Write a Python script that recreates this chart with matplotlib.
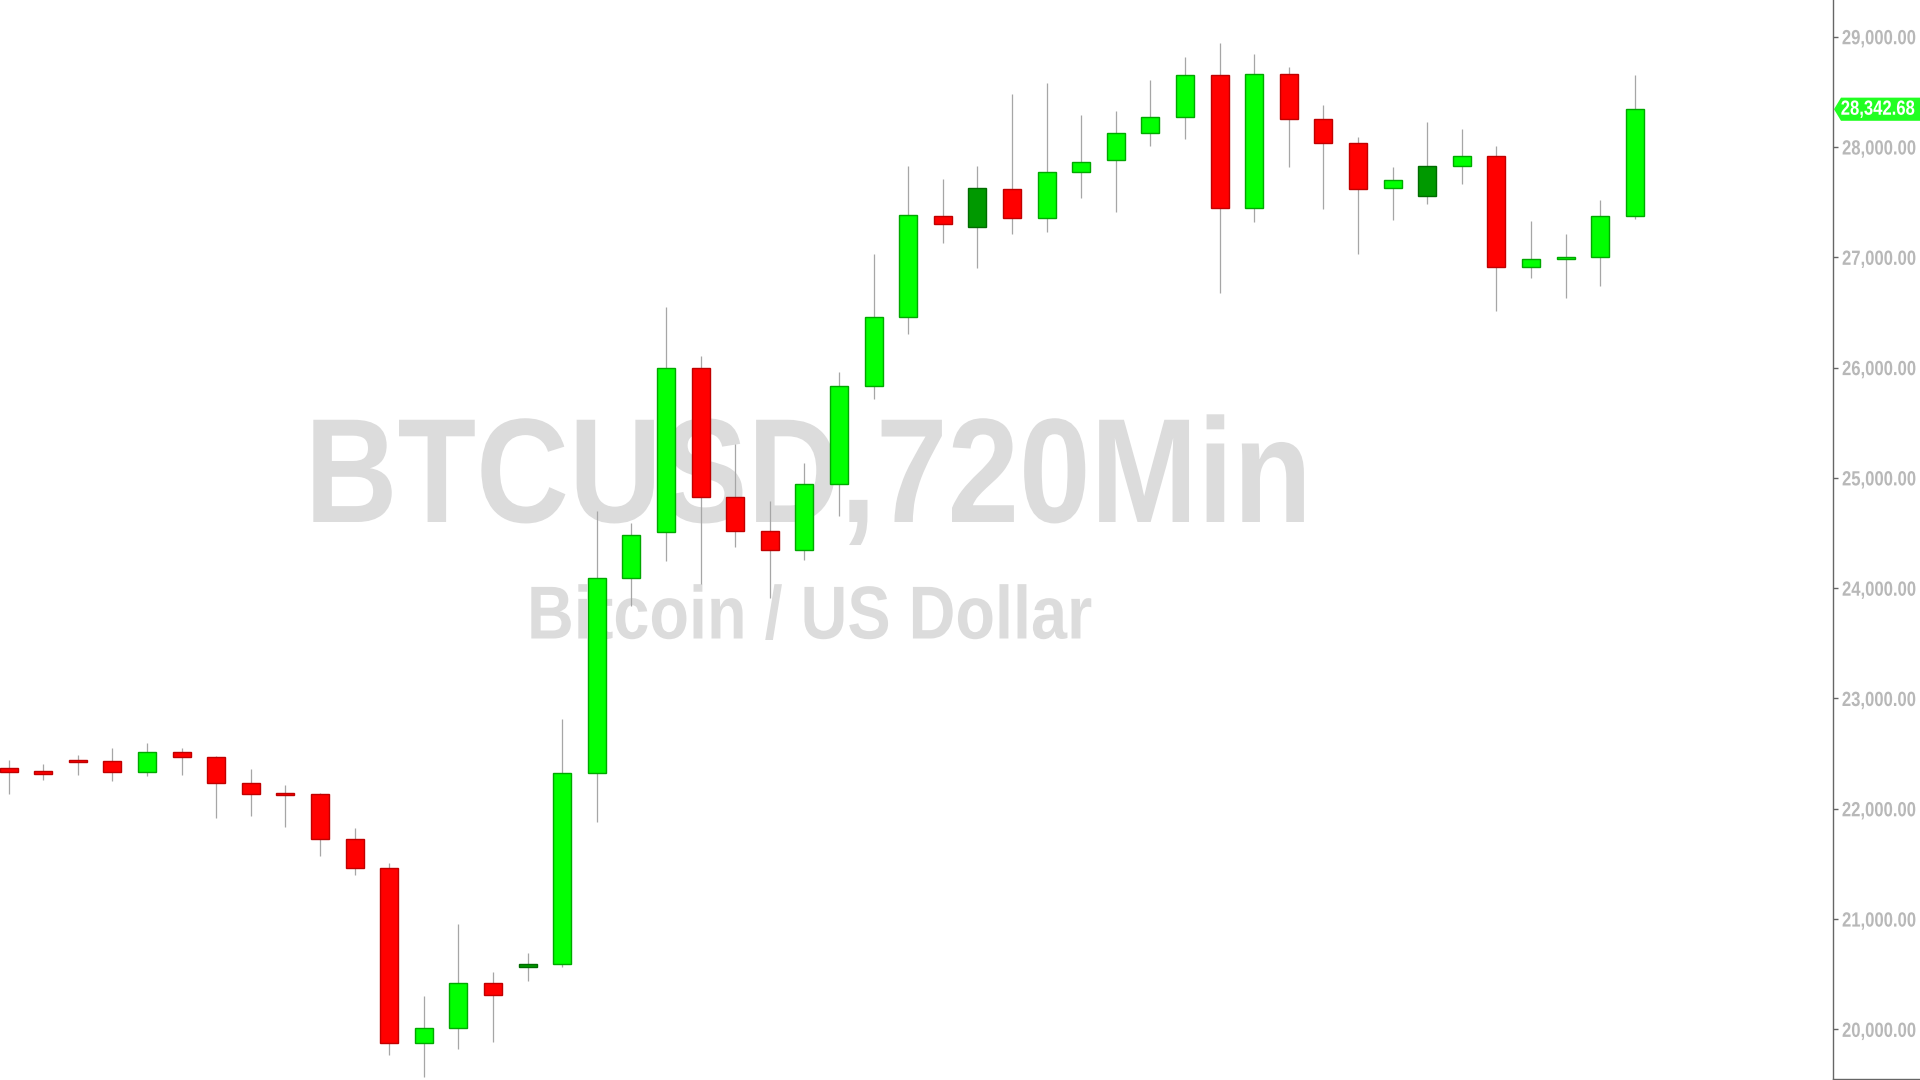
import matplotlib
matplotlib.use("Agg")
import matplotlib.pyplot as plt
from matplotlib.patches import Polygon
from matplotlib.lines import Line2D
from matplotlib.patheffects import AbstractPathEffect
from matplotlib.transforms import Affine2D, blended_transform_factory
from matplotlib.ticker import FuncFormatter, MultipleLocator

# BTCUSD 720 min candles
opens = [22367, 22346, 22440, 22436, 22336, 22512, 22467, 22231, 22140, 22135,
         21729, 21466, 19874, 20008, 20421, 20570, 20595, 22321, 24088, 24514,
         25994, 24829, 24521, 24343, 24942, 25832, 26458, 27374, 27277, 27617,
         27354, 27775, 27879, 28124, 28275, 28653, 27450, 28659, 28251, 28039,
         27626, 27559, 27825, 27918, 26915, 26982, 27005, 27374]
highs = [22443, 22406, 22491, 22549, 22594, 22549, 22479, 22358, 22216, 22146,
         21823, 21512, 20305, 20957, 20522, 20688, 22816, 24704, 24592, 26549,
         26101, 25305, 24787, 25136, 25962, 27031, 27830, 27714, 27830, 28484,
         28581, 28290, 28326, 28607, 28813, 28940, 28843, 28723, 28381, 28093,
         27816, 28229, 28163, 28012, 27329, 27211, 27520, 28653]
lows = [22134, 22261, 22309, 22255, 22300, 22305, 21919, 21935, 21838, 21572,
        21400, 19768, 19565, 19819, 19889, 20435, 20563, 21878, 23843, 24250,
        24042, 24373, 23915, 24259, 24651, 25719, 26302, 27131, 26901, 27215,
        27228, 27539, 27413, 28009, 28070, 26674, 27323, 27821, 27438, 27027,
        27338, 27481, 27662, 26516, 26815, 26628, 26740, 27345]
closes = [22336, 22316, 22432, 22336, 22512, 22467, 22231, 22132, 22132, 21729,
          21461, 19874, 20008, 20421, 20309, 20595, 22321, 24088, 24482, 25994,
          24829, 24521, 24343, 24942, 25832, 26458, 27384, 27306, 27629, 27354,
          27775, 27863, 28124, 28275, 28653, 27450, 28659, 28251, 28039, 27617,
          27698, 27825, 27918, 26915, 26987, 27005, 27374, 28342.68]
# candles drawn in the darker green
dark = [15, 28, 41]

symbol = "BTCUSD,720Min"
name = "Bitcoin / US Dollar"

fam = ["Liberation Sans", "DejaVu Sans"]


class Squeeze(AbstractPathEffect):
    # narrow the glyphs horizontally (the chart uses a condensed bold face)
    def __init__(self, sx, anchor="center"):
        super().__init__()
        self.sx = sx
        self.anchor = anchor

    def draw_path(self, renderer, gc, tpath, affine, rgbFace=None):
        v = affine.transform(tpath.vertices)
        if len(v) == 0:
            return
        if self.anchor == "center":
            x0 = (v[:, 0].min() + v[:, 0].max()) / 2
        elif self.anchor == "right":
            x0 = v[:, 0].max()
        else:
            x0 = v[:, 0].min()
        t = affine + Affine2D().translate(-x0, 0).scale(self.sx, 1).translate(x0, 0)
        renderer.draw_path(gc, tpath, t, rgbFace)


fig = plt.figure(figsize=(19.2, 10.8), dpi=100)
ax = fig.add_axes([0, 0, 1833 / 1920, 1])

n = len(opens)
xs = list(range(n))

# wicks
ax.vlines(xs, lows, highs, color="#a6a6a6", linewidth=0.9, zorder=2)

# bodies
for i in xs:
    o, c = opens[i], closes[i]
    if c >= o:
        if i in dark:
            fc, ec = "#009900", "#006b00"
        else:
            fc, ec = "#00ff00", "#00a800"
    else:
        fc, ec = "#ff0000", "#c00000"
    h = max(abs(c - o), 18)
    bottom = min(o, c) if abs(c - o) >= 18 else (o + c) / 2 - 9
    ax.bar(i, h, bottom=bottom, width=0.52, color=fc, edgecolor=ec,
           linewidth=1.0, zorder=3)

# watermark
ax.text(0.4414, 1 - 522 / 1080, symbol, transform=ax.transAxes, ha="center",
        va="baseline", fontsize=107, fontweight="bold", color="#dcdcdc",
        family=fam, zorder=0, path_effects=[Squeeze(0.865)])
ax.text(0.4416, 1 - 638.5 / 1080, name, transform=ax.transAxes, ha="center",
        va="baseline", fontsize=54, fontweight="bold", color="#dcdcdc",
        family=fam, zorder=0, path_effects=[Squeeze(0.864)])

ax.set_xlim(-0.249, 52.73)
ax.set_ylim(19541, 29333)

for s in ["top", "left", "bottom"]:
    ax.spines[s].set_visible(False)
ax.spines["right"].set_color("#666666")
ax.spines["right"].set_linewidth(1.0)
ax.set_xticks([])
ax.yaxis.tick_right()
ax.yaxis.set_major_locator(MultipleLocator(1000))
ax.yaxis.set_major_formatter(FuncFormatter(lambda v, p: f"{v:,.2f}"))
# labels right-aligned against the figure edge
ax.tick_params(axis="y", length=3.6, width=1, color="#666666", pad=56.2,
               labelsize=14.8, labelcolor="#b8b8b8")
for lab in ax.get_yticklabels():
    lab.set_fontweight("bold")
    lab.set_family(fam)
    lab.set_horizontalalignment("right")
    lab.set_path_effects([Squeeze(0.81, anchor="right")])

# last price tag
last = closes[-1]
tr = blended_transform_factory(ax.transAxes, ax.transData)
hh = 105
px = 1 / 1833
tag = Polygon([(1.0 + 1 * px, last), (1.0 + 8 * px, last + hh),
               (1920 / 1833, last + hh), (1920 / 1833, last - hh),
               (1.0 + 8 * px, last - hh)], closed=True, transform=tr,
              facecolor="#22ff22", edgecolor="none", clip_on=False, zorder=5)
ax.add_patch(tag)
ax.text(1.0 + 82 * px, last, f"{last:,.2f}", transform=tr, ha="right",
        va="center", fontsize=14.8, fontweight="bold", color="white",
        family=fam, clip_on=False, zorder=6,
        path_effects=[Squeeze(0.81, anchor="right")])

# bottom border of the price scale panel
fig.add_artist(Line2D([1833 / 1920, 1], [0.0008, 0.0008], color="#666666",
                      linewidth=1.0, transform=fig.transFigure))

fig.savefig("out.png", dpi=100, facecolor="white")
